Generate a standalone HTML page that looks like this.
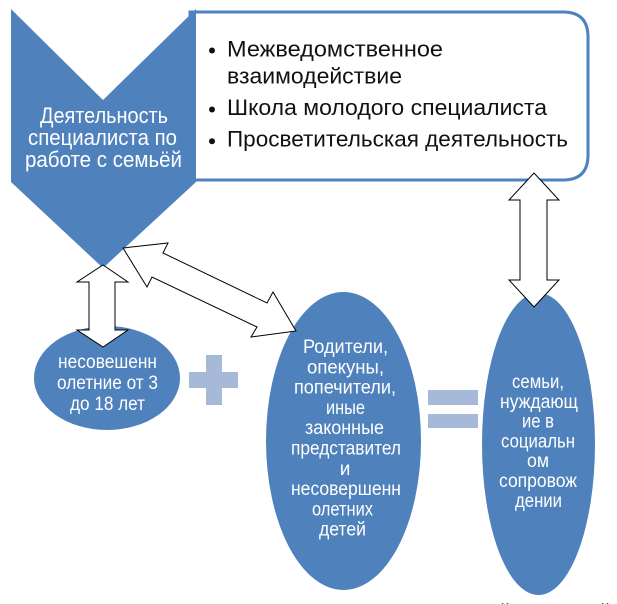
<!DOCTYPE html>
<html>
<head>
<meta charset="utf-8">
<style>
  html, body { margin: 0; padding: 0; background: #ffffff; }
  svg { display: block; }
  text { font-family: "Liberation Sans", "DejaVu Sans", sans-serif; }
</style>
</head>
<body>
<svg width="617" height="604" viewBox="0 0 617 604" xmlns="http://www.w3.org/2000/svg">
  <rect x="0" y="0" width="617" height="604" fill="#ffffff"/>

  <!-- Rounded box (right side) -->
  <path d="M 190 12 L 563 12 Q 588 12 588 37 L 588 155 Q 588 180 563 180 L 190 180 Z"
        fill="#ffffff" stroke="#4f81bd" stroke-width="3"/>

  <!-- Chevron -->
  <polygon points="11,9 103,100 196,9 196,182 103,268 11,182" fill="#4f81bd"/>

  <!-- Chevron text -->
  <g fill="#ffffff" font-size="22" text-anchor="middle">
    <text x="104" y="123" textLength="128" lengthAdjust="spacingAndGlyphs">Деятельность</text>
    <text x="102.5" y="145" textLength="149" lengthAdjust="spacingAndGlyphs">специалиста по</text>
    <text x="103.5" y="167" textLength="157" lengthAdjust="spacingAndGlyphs">работе с семьёй</text>
  </g>

  <!-- Box bullets & text -->
  <g fill="#111111">
    <circle cx="212" cy="50.5" r="3"/>
    <circle cx="212" cy="109.5" r="3"/>
    <circle cx="212" cy="141.2" r="3"/>
  </g>
  <g fill="#111111" font-size="22">
    <text x="227" y="56.5" textLength="216" lengthAdjust="spacingAndGlyphs">Межведомственное</text>
    <text x="227" y="83.5" textLength="175" lengthAdjust="spacingAndGlyphs">взаимодействие</text>
    <text x="227" y="115" textLength="320" lengthAdjust="spacingAndGlyphs">Школа молодого специалиста</text>
    <text x="227" y="146.7" textLength="341" lengthAdjust="spacingAndGlyphs">Просветительская деятельность</text>
  </g>

  <!-- Ellipses -->
  <ellipse cx="107" cy="378" rx="73" ry="52" fill="#4f81bd"/>
  <ellipse cx="343.5" cy="441" rx="77.5" ry="149" fill="#4f81bd"/>
  <ellipse cx="538.5" cy="444" rx="56.5" ry="151" fill="#4f81bd"/>

  <!-- Plus -->
  <rect x="189" y="372" width="49" height="16" fill="#a7b9d9"/>
  <rect x="206" y="355" width="16" height="50" fill="#a7b9d9"/>

  <!-- Equals -->
  <rect x="428" y="390" width="50" height="15" fill="#a7b9d9"/>
  <rect x="428" y="414" width="50" height="14" fill="#a7b9d9"/>

  <!-- Ellipse 1 text -->
  <g fill="#ffffff" font-size="19" text-anchor="middle">
    <text x="107.5" y="368" textLength="99" lengthAdjust="spacingAndGlyphs">несовешенн</text>
    <text x="107.5" y="389" textLength="101" lengthAdjust="spacingAndGlyphs">олетние от 3</text>
    <text x="107.5" y="410" textLength="75" lengthAdjust="spacingAndGlyphs">до 18 лет</text>
  </g>

  <!-- Ellipse 2 text -->
  <g fill="#ffffff" font-size="19" text-anchor="middle">
    <text x="345.5" y="353" textLength="85" lengthAdjust="spacingAndGlyphs">Родители,</text>
    <text x="345.5" y="373.3" textLength="77" lengthAdjust="spacingAndGlyphs">опекуны,</text>
    <text x="345" y="393.6" textLength="102" lengthAdjust="spacingAndGlyphs">попечители,</text>
    <text x="345.5" y="413.9" textLength="39" lengthAdjust="spacingAndGlyphs">иные</text>
    <text x="344.5" y="434.2" textLength="79" lengthAdjust="spacingAndGlyphs">законные</text>
    <text x="346" y="454.5" textLength="110" lengthAdjust="spacingAndGlyphs">представител</text>
    <text x="345" y="474.8">и</text>
    <text x="346" y="495.1" textLength="110" lengthAdjust="spacingAndGlyphs">несовершенн</text>
    <text x="342.5" y="515.4" textLength="61" lengthAdjust="spacingAndGlyphs">олетних</text>
    <text x="342.5" y="535.7" textLength="47" lengthAdjust="spacingAndGlyphs">детей</text>
  </g>

  <!-- Ellipse 3 text -->
  <g fill="#ffffff" font-size="19" text-anchor="middle">
    <text x="538" y="388" textLength="52" lengthAdjust="spacingAndGlyphs">семьи,</text>
    <text x="539" y="407.8" textLength="78" lengthAdjust="spacingAndGlyphs">нуждающ</text>
    <text x="538" y="427.6" textLength="32" lengthAdjust="spacingAndGlyphs">ие в</text>
    <text x="538" y="447.4" textLength="74" lengthAdjust="spacingAndGlyphs">социальн</text>
    <text x="538" y="467.2" textLength="22" lengthAdjust="spacingAndGlyphs">ом</text>
    <text x="538" y="487" textLength="78" lengthAdjust="spacingAndGlyphs">сопровож</text>
    <text x="538.5" y="506.8" textLength="47" lengthAdjust="spacingAndGlyphs">дении</text>
  </g>

  <!-- Arrows -->
  <g fill="#ffffff" stroke="#000000" stroke-width="1" stroke-linejoin="miter">
    <polygon points="103,265 128,282 115,282 115,330 128,330 103,347 77,330 89,330 89,282 77,282"/>
    <polygon points="534,173 559,200 547,200 547,280 559,280 534,307 509,280 520,280 520,200 509,200"/>
    <polygon points="123,248 168,243 163,253 267,303 273,292 296,331 251,337 257,327 152,277 147,287"/>
  </g>

  <!-- cut-off text at bottom edge -->
  <g fill="#111111" font-size="18">
    <text x="500" y="617">й</text>
    <text x="600" y="617">й</text>
  </g>
</svg>
</body>
</html>
